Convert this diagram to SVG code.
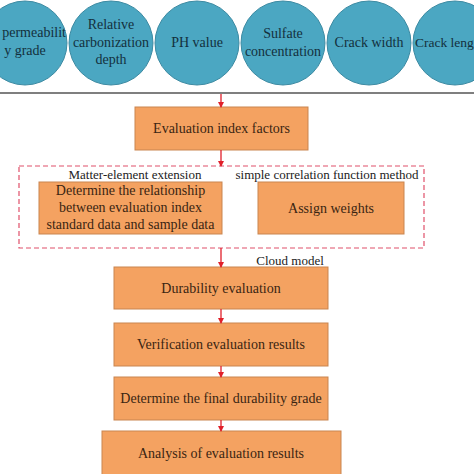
<svg xmlns="http://www.w3.org/2000/svg" width="474" height="474" viewBox="0 0 474 474">
<style>
text{font-family:"Liberation Serif","Times New Roman","DejaVu Serif",serif}
.c{fill:#4ba7c2;stroke:#3c8aa2;stroke-width:1}
.ct{font-size:14px;fill:#13303d;text-anchor:middle}
.b{fill:#f4a261;stroke:#c98550;stroke-width:1}
.bt{font-size:14px;fill:#3a2512;text-anchor:middle}
.lt{font-size:13px;fill:#222;text-anchor:middle}
.a{stroke:#e0202a;stroke-width:1.3;fill:none;marker-end:url(#ah)}
</style>
<defs>
<marker id="ah" markerWidth="6" markerHeight="6" refX="5" refY="3" orient="auto" markerUnits="userSpaceOnUse">
<path d="M0,0 L6,3 L0,6 z" fill="#e0202a"/>
</marker>
</defs>
<rect width="474" height="474" fill="#fff"/>
<g id="n1"><circle class="c" cx="25" cy="43" r="42"/><text class="ct" x="66" y="37" style="text-anchor:end">permeabilit</text><text class="ct" x="25" y="55">y grade</text></g>
<g id="n2"><circle class="c" cx="111" cy="43" r="42"/><text class="ct" x="111" y="29">Relative</text><text class="ct" x="111" y="47">carbonization</text><text class="ct" x="111" y="64">depth</text></g>
<g id="n3"><circle class="c" cx="197" cy="43" r="42"/><text class="ct" x="197" y="47">PH value</text></g>
<g id="n4"><circle class="c" cx="283" cy="43" r="42"/><text class="ct" x="283" y="38">Sulfate</text><text class="ct" x="283" y="56">concentration</text></g>
<g id="n5"><circle class="c" cx="369" cy="43" r="42"/><text class="ct" x="369" y="47">Crack width</text></g>
<g id="n6"><circle class="c" cx="455" cy="43" r="42"/><text class="ct" x="415" y="47" style="text-anchor:start;font-size:13.5px">Crack leng</text></g>
<line id="divider" x1="0" y1="93" x2="474" y2="93" stroke="#555" stroke-width="1.5"/>
<g id="b1"><rect class="b" x="135" y="107" width="173" height="43"/><text class="bt" x="221.5" y="133">Evaluation index  factors</text></g>
<g id="group"><rect x="19" y="166" width="405" height="82" fill="none" stroke="#e0506a" stroke-width="1.2" stroke-dasharray="5,3"/>
<text class="lt" x="135" y="179">Matter-element extension</text>
<text class="lt" x="327" y="179">simple correlation function method</text></g>
<g id="b2"><rect class="b" x="39" y="182" width="183" height="52"/><text class="bt" x="130.5" y="195">Determine the relationship</text><text class="bt" x="130.5" y="212">between evaluation index</text><text class="bt" x="130.5" y="229">standard data and sample data</text></g>
<g id="b3"><rect class="b" x="258" y="182" width="146" height="52"/><text class="bt" x="331" y="213">Assign weights</text></g>
<text id="cloud" class="lt" x="290" y="265">Cloud model</text>
<g id="b4"><rect class="b" x="114" y="267" width="214" height="42"/><text class="bt" x="221" y="293">Durability evaluation</text></g>
<g id="b5"><rect class="b" x="114" y="323" width="214" height="43"/><text class="bt" x="221" y="349">Verification evaluation results</text></g>
<g id="b6"><rect class="b" x="114" y="377" width="214" height="43"/><text class="bt" x="221" y="403">Determine the final durability grade</text></g>
<g id="b7"><rect class="b" x="102" y="431" width="239" height="50"/><text class="bt" x="221" y="458">Analysis of evaluation results</text></g>
<g id="connectors">
<line class="a" x1="221" y1="94" x2="221" y2="107"/>
<line class="a" x1="221" y1="150" x2="221" y2="166"/>
<line class="a" x1="221" y1="248" x2="221" y2="267"/>
<line class="a" x1="221" y1="309" x2="221" y2="323"/>
<line class="a" x1="221" y1="366" x2="221" y2="377"/>
<line class="a" x1="221" y1="420" x2="221" y2="431"/>
</g>
</svg>
